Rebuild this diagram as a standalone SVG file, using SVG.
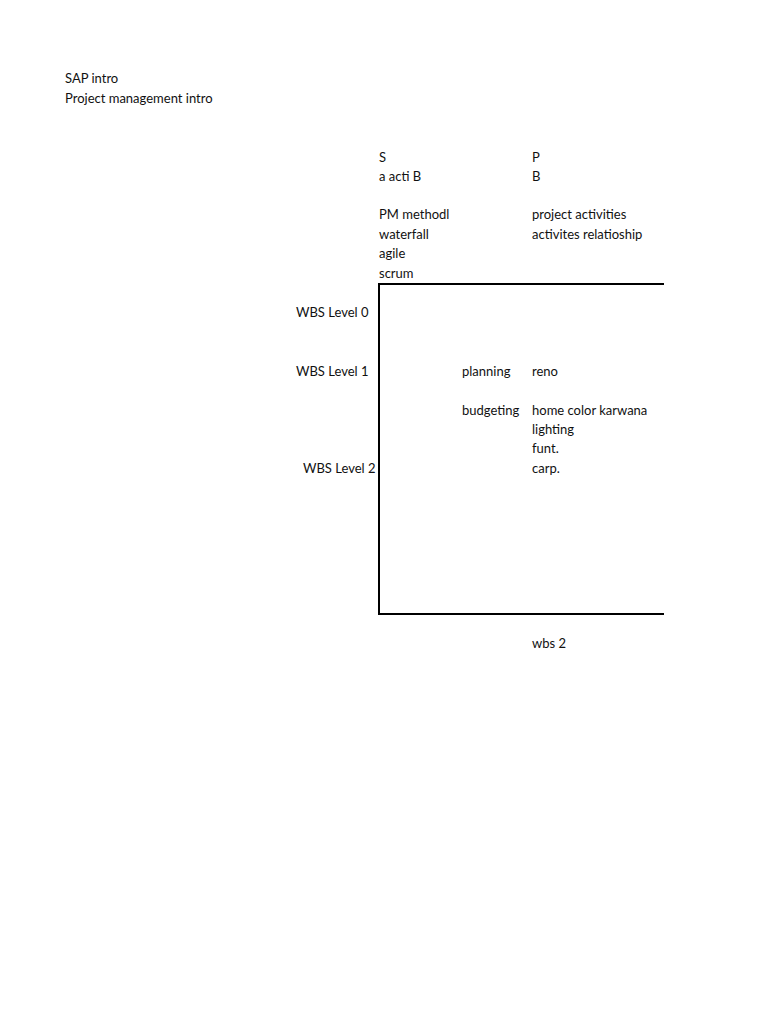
<svg xmlns="http://www.w3.org/2000/svg" width="768" height="1024" viewBox="0 0 768 1024">
<style>
text{font-family:Lato,"Open Sans","Liberation Sans",sans-serif;font-size:13px;fill:#111}
.ln{stroke:#000;stroke-width:2;fill:none}
</style>
<rect width="768" height="1024" fill="#fff"/>
<g id="header">
<text x="65" y="83">SAP intro</text>
<text x="65" y="103">Project management intro</text>
</g>
<g id="col-s">
<text x="379" y="162">S</text>
<text x="379" y="181">a acti B</text>
<text x="379" y="219">PM methodl</text>
<text x="379" y="239">waterfall</text>
<text x="379" y="258">agile</text>
<text x="379" y="278">scrum</text>
</g>
<g id="col-p">
<text x="532" y="162">P</text>
<text x="532" y="181">B</text>
<text x="532" y="219">project activities</text>
<text x="532" y="239">activites relatioship</text>
</g>
<g id="frame">
<path class="ln" d="M664 284 H379 V614 H664"/>
</g>
<g id="levels">
<text x="296" y="317">WBS Level 0</text>
<text x="296" y="376">WBS Level 1</text>
<text x="303" y="473">WBS Level 2</text>
</g>
<g id="items">
<text x="462" y="376">planning</text>
<text x="532" y="376">reno</text>
<text x="462" y="415">budgeting</text>
<text x="532" y="415">home color karwana</text>
<text x="532" y="434">lighting</text>
<text x="532" y="453">funt.</text>
<text x="532" y="473">carp.</text>
<text x="532" y="648">wbs 2</text>
</g>
</svg>
